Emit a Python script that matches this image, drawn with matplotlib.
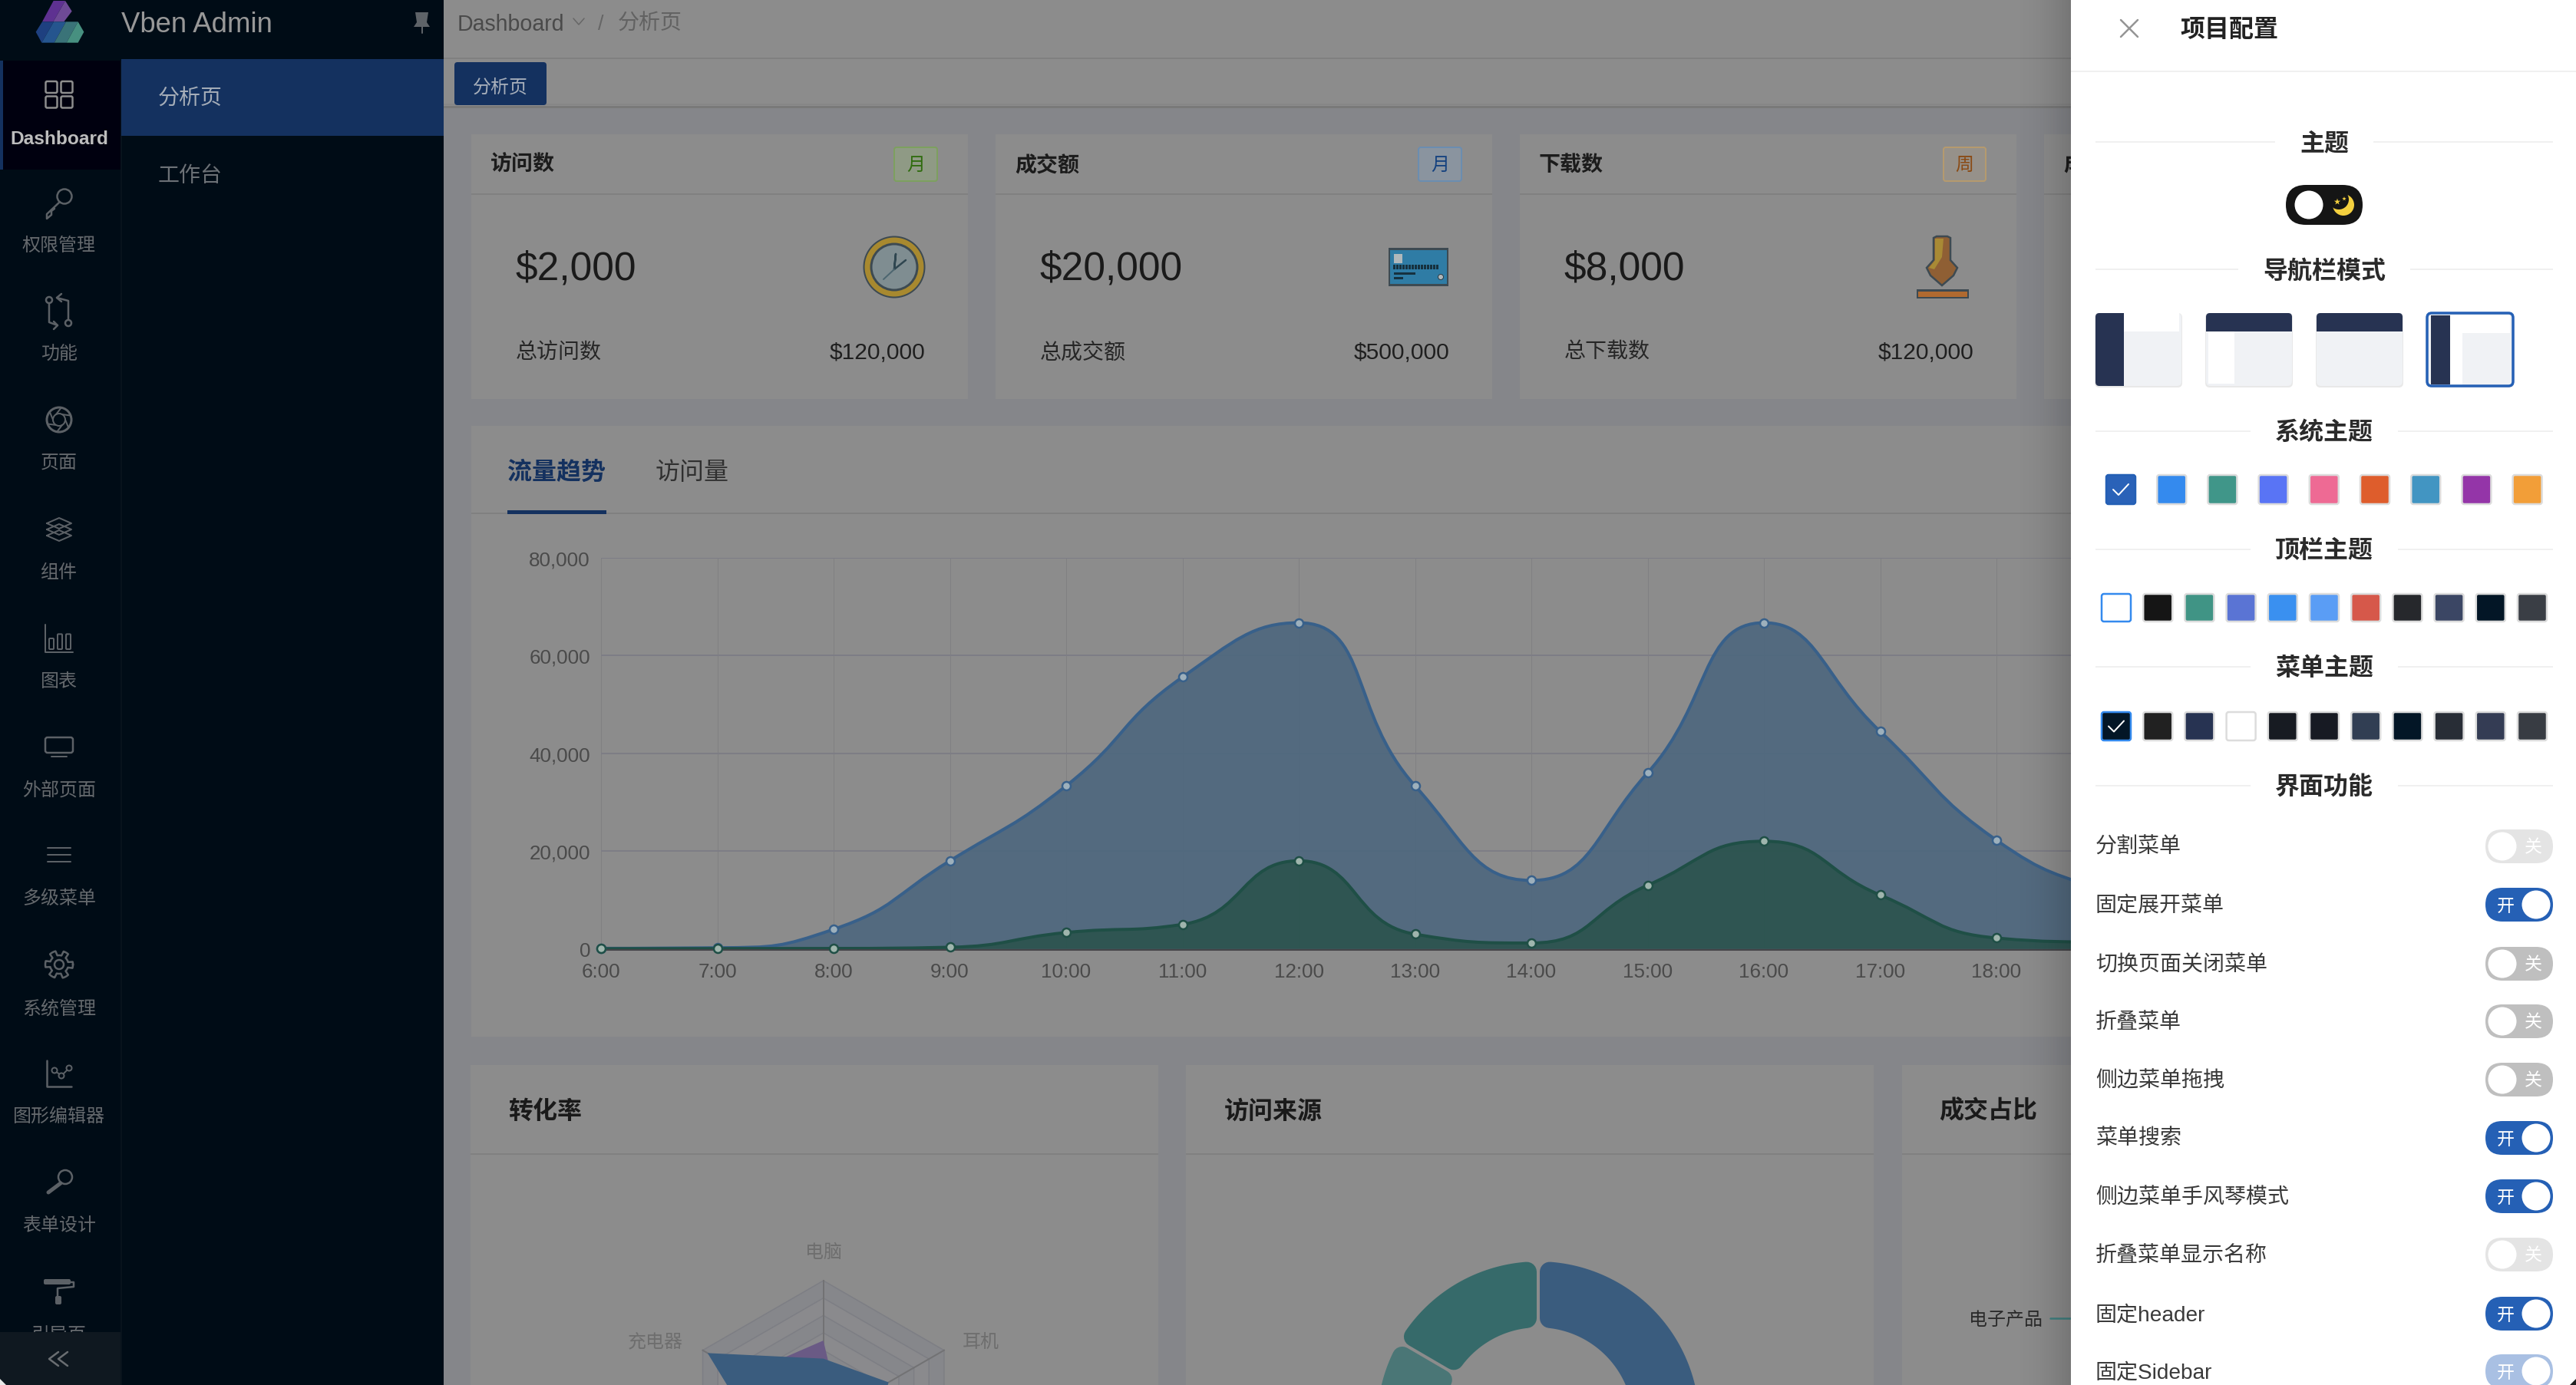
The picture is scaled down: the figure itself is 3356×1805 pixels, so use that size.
import numpy as np
import matplotlib
matplotlib.use("Agg")
import matplotlib.pyplot as plt
from matplotlib.patches import FancyBboxPatch, Rectangle, Circle, Polygon, PathPatch
from matplotlib.path import Path

plt.rcParams['font.family'] = ['Liberation Sans', 'Noto Sans CJK SC', 'DejaVu Sans']

W, H = 3356, 1806
DPI = 100

# chart data
hours = ['6:00', '7:00', '8:00', '9:00', '10:00', '11:00', '12:00', '13:00', '14:00',
         '15:00', '16:00', '17:00', '18:00', '19:00', '20:00']
visits = [111, 222, 4000, 18000, 33333, 55555, 66666, 33333, 14000,
          36000, 66666, 44444, 22222, 11111, 4000]
sales = [33, 66, 88, 333, 3333, 5000, 18000, 3000, 1200,
         13000, 22000, 11000, 2221, 1201, 390]
y_ticks = [0, 20000, 40000, 60000, 80000]

radar_labels = ['电脑', '充电器', '耳机', '手机', 'Ipad', '耳机']
radar_blue = [44, 96, 46, 30, 40, 54]
radar_purple = [57, 65, 30, 20, 10, 13.5]

source_values = [1048, 735, 580, 470]
source_colors = ['#3a5c7e', '#4a6c7c', '#4a7676', '#366a6a']

# stat cards
card_titles = ['访问数', '成交额', '下载数', '成交数']
card_values = ['$2,000', '$20,000', '$8,000']
card_foot = ['总访问数', '总成交额', '总下载数']
card_totals = ['$120,000', '$500,000', '$120,000']
card_tags = ['月', '月', '周']

side_labels = ['Dashboard', '权限管理', '功能', '页面', '组件', '图表', '外部页面',
               '多级菜单', '系统管理', '图形编辑器', '表单设计', '引导页']

# settings panel
system_colors = ['#2a62b8', '#348aee', '#409689', '#5974f5', '#ee6a94', '#de5d2c',
                 '#4295c2', '#9435a8', '#f29e38']
header_colors = ['#ffffff', '#151515', '#409485', '#5a74d4', '#3a90f0', '#5a9df5',
                 '#d6584a', '#26282c', '#3b4664', '#031626', '#3a3e45']
menu_colors = ['#031626', '#212121', '#273352', '#ffffff', '#171b22', '#171a23',
               '#313e53', '#031626', '#282d36', '#343c54', '#383c43']
option_labels = ['分割菜单', '固定展开菜单', '切换页面关闭菜单', '折叠菜单', '侧边菜单拖拽', '菜单搜索',
                 '侧边菜单手风琴模式', '折叠菜单显示名称', '固定header', '固定Sidebar']
option_on = [0, 1, 0, 0, 0, 1, 1, 0, 1, 1]
option_disabled = [1, 0, 0, 0, 0, 0, 0, 1, 0, 1]

SIDE = '#000c16'
ACTIVE = '#14315f'
CARD = '#8c8c8c'
PAGE = '#85868a'
DARKLINE = '#808080'
NAVY = '#273352'
BLUE = '#2560b5'


def pt(p):
    return p * 72.0 / DPI


fig = plt.figure(figsize=(W / DPI, H / DPI), dpi=DPI)


def pixel_axes(z):
    a = fig.add_axes([0, 0, 1, 1], zorder=z)
    a.set_xlim(0, W)
    a.set_ylim(H, 0)
    a.axis('off')
    a.patch.set_alpha(0)
    return a


def rect(a, x0, y0, x1, y1, color, z=1):
    a.add_patch(Rectangle((x0, y0), x1 - x0, y1 - y0, fc=color, ec='none', zorder=z))


def rbox(a, x0, y0, x1, y1, r, fc, ec='none', lw=0, z=2):
    a.add_patch(FancyBboxPatch((x0, y0), x1 - x0, y1 - y0, boxstyle='round,pad=0,rounding_size=%g' % r,
                               fc=fc, ec=ec, lw=pt(lw), zorder=z))


def txt(a, x, y, s, size, color, ha='left', weight='normal', z=4):
    # va center sits a little high with this font list
    a.text(x, y + 5, s, fontsize=pt(size), color=color, ha=ha, va='center', fontweight=weight, zorder=z)


def line(a, xs, ys, color, lw=2, z=3):
    a.plot(xs, ys, color=color, lw=pt(lw), solid_capstyle='round', solid_joinstyle='round', zorder=z)


def ring_slice(t1, t2, r0, r1, d):
    # outline of a donut slice whose straight sides are offset by d
    a1 = np.arcsin(d / r1)
    a0 = np.arcsin(d / r0)
    outer = np.linspace(t1 + a1, t2 - a1, 80)
    inner = np.linspace(t2 - a0, t1 + a0, 80)
    return np.vstack([np.column_stack([r1 * np.sin(outer), -r1 * np.cos(outer)]),
                      np.column_stack([r0 * np.sin(inner), -r0 * np.cos(inner)])])


def echarts_smooth(ax, xs, ys, smooth=0.5):
    # same control points as an echarts line with smooth: true, worked out on screen
    p = ax.transData.transform(np.column_stack([xs, ys]))
    verts = [p[0]]
    codes = [Path.MOVETO]
    cp0 = p[0].copy()
    n = len(p)
    for i in range(1, n):
        cur = p[i]
        if i == n - 1:
            cp1 = cur.copy()
            next_cp0 = cur.copy()
        else:
            prv, nxt = p[i - 1], p[i + 1]
            v = nxt - prv
            len_prev = np.hypot(*(cur - prv))
            len_next = np.hypot(*(nxt - cur))
            ratio = len_next / (len_next + len_prev)
            next_cp0 = cur + v * smooth * ratio
            next_cp0 = np.minimum(next_cp0, np.maximum(nxt, cur))
            next_cp0 = np.maximum(next_cp0, np.minimum(nxt, cur))
            v = next_cp0 - cur
            cp1 = cur - v * len_prev / len_next
            cp1 = np.minimum(cp1, np.maximum(prv, cur))
            cp1 = np.maximum(cp1, np.minimum(prv, cur))
            v = cur - cp1
            next_cp0 = cur + v * len_next / len_prev
        verts += [cp0, cp1, cur]
        codes += [Path.CURVE4] * 3
        cp0 = next_cp0
    return ax.transData.inverted().transform(np.array(verts)), codes


# ---------- page behind the mask ----------
bg = pixel_axes(0)
rect(bg, 578, 0, W, H, PAGE, 0)
rect(bg, 578, 0, W, 140, CARD)
rect(bg, 578, 76, W, 78, DARKLINE)
rect(bg, 578, 136, W, 138, '#868686')
rect(bg, 578, 139, W, 142, '#797979')
rect(bg, 0, 0, 578, H, SIDE)
rect(bg, 157, 80, 159, H, '#08131c')

# logo
for pts_, c in [([(209, 6), (255, 6), (208, 88), (165, 88)], '#5e3191'),
                ([(255, 6), (281, 47), (250, 88), (208, 88)], '#6e4a96'),
                ([(165, 88), (210, 88), (163, 170), (140, 128)], '#1e4080'),
                ([(210, 88), (258, 88), (212, 170), (163, 170)], '#25558e'),
                ([(258, 88), (305, 88), (260, 170), (212, 170)], '#3a7378'),
                ([(305, 88), (328, 128), (305, 170), (260, 170)], '#479080')]:
    bg.add_patch(Polygon(np.array(pts_) / 3.0, fc=c, ec='none', zorder=3))
txt(bg, 158, 27, 'Vben Admin', 36.5, '#989898')
# pin
bg.add_patch(Polygon([(541, 17), (558, 17), (556, 30), (560, 36), (539, 36), (543, 30)], fc='#5e6368', ec='none'))
line(bg, [549.5, 549.5], [36, 44], '#5e6368', 2)

# side menu
rect(bg, 0, 80, 157, 222, '#00000f', 2)
rect(bg, 0, 80, 4, 222, ACTIVE, 3)
rect(bg, 158, 78, 578, 178, ACTIVE, 2)
txt(bg, 206, 125, '分析页', 28, '#a5adb8')
txt(bg, 206, 225, '工作台', 28, '#6c7176')

IC = '#5c6166'
icon_y = [124, 266, 407, 548, 691, 833, 974, 1115, 1258, 1400, 1541, 1684]
label_y = [176, 316, 458, 600, 742, 884, 1025, 1167, 1310, 1451, 1593, 1736]
cx = 77
for i, s in enumerate(side_labels):
    if i == 0:
        txt(bg, cx, label_y[i], s, 24.5, '#bdbdbd', 'center', 'bold')
    else:
        txt(bg, cx, label_y[i], s, 24, '#65696d', 'center', z=2)

y = icon_y[0]
for dx in (-17.5, 2.5):
    for dy in (-17, 2.5):
        rbox(bg, cx + dx, y + dy, cx + dx + 15, y + dy + 15, 2, 'none', '#8d8d8d', 2.5, 3)
y = icon_y[1]
bg.add_patch(Circle((cx + 7, y - 9), 9.5, fc='none', ec=IC, lw=pt(2.5), zorder=3))
line(bg, [cx + 1, cx - 16, cx - 16, cx - 10, cx - 10, cx - 6], [y - 2, y + 14, y + 20, y + 15, y + 10, y + 7], IC, 2.5)
y = icon_y[2]
for dx, dy in ((-13, -15), (12, 15)):
    bg.add_patch(Circle((cx + dx, y + dy), 4, fc='none', ec=IC, lw=pt(2.5), zorder=3))
line(bg, [cx - 13, cx - 13, cx - 2], [y - 10, y + 14, y + 18], IC, 2.5)
line(bg, [cx - 3, cx + 12, cx + 12], [y - 18, y - 14, y + 10], IC, 2.5)
line(bg, [cx + 3, cx - 3, cx + 3], [y - 23, y - 18, y - 13], IC, 2.5)
line(bg, [cx - 7, cx - 2, cx - 7], [y + 13, y + 18, y + 23], IC, 2.5)
y = icon_y[3]
bg.add_patch(Circle((cx, y), 16, fc='none', ec=IC, lw=pt(3), zorder=3))
bg.add_patch(Circle((cx, y), 8, fc='none', ec=IC, lw=pt(2), zorder=3))
for a_ in np.arange(6) * np.pi / 3:
    line(bg, [cx + 8 * np.cos(a_), cx + 16 * np.cos(a_ + 0.7)], [y + 8 * np.sin(a_), y + 16 * np.sin(a_ + 0.7)], IC, 2)
y = icon_y[4]
for dy in (-8, 0, 8):
    line(bg, [cx - 16, cx, cx + 16, cx, cx - 16], [y + dy, y + dy - 7, y + dy, y + dy + 7, y + dy], IC, 2)
y = icon_y[5]
line(bg, [cx - 18, cx - 18, cx + 18], [y - 18, y + 18, y + 18], IC, 2)
for dx, hh in ((-10, 10), (1, 14), (12, 14)):
    rbox(bg, cx + dx - 3, y + 14 - hh * 1.4, cx + dx + 3, y + 14, 1, 'none', IC, 2, 3)
y = icon_y[6]
rbox(bg, cx - 18, y - 12, cx + 18, y + 8, 3, 'none', IC, 2.5, 3)
line(bg, [cx - 10, cx + 10], [y + 13, y + 13], IC, 2)
y = icon_y[7]
for dy in (-9, 0, 9):
    line(bg, [cx - 15, cx + 15], [y + dy, y + dy], IC, 2)
y = icon_y[8]
ang = np.linspace(0, 2 * np.pi, 97)
gear_r = 15 + 3 * np.sign(np.cos(ang * 6))
bg.plot(cx + gear_r * np.cos(ang), y + gear_r * np.sin(ang), color=IC, lw=pt(2.5), zorder=3)
bg.add_patch(Circle((cx, y), 6, fc='none', ec=IC, lw=pt(2.5), zorder=3))
y = icon_y[9]
line(bg, [cx - 16, cx - 16, cx + 16], [y - 17, y + 17, y + 17], IC, 2.5)
line(bg, [cx - 6, cx + 3, cx + 13], [y - 4, y + 3, y - 7], IC, 2)
for dx, dy in ((-6, -4), (3, 3), (13, -7)):
    bg.add_patch(Circle((cx + dx, y + dy), 3.5, fc=SIDE, ec=IC, lw=pt(2), zorder=4))
y = icon_y[10]
line(bg, [cx - 14, cx + 2], [y + 14, y + 2], IC, 5)
bg.add_patch(Circle((cx + 8, y - 6), 9, fc='none', ec=IC, lw=pt(2.5), zorder=3))
y = icon_y[11]
rbox(bg, cx - 20, y - 16, cx + 15, y - 9, 2, IC, z=3)
line(bg, [cx + 15, cx + 19, cx + 19, cx - 2, cx - 2], [y - 12, y - 12, y - 6, y - 4, y + 8], IC, 2.5)
rbox(bg, cx - 5, y + 6, cx + 3, y + 17, 2, IC, z=3)
rect(bg, 0, 1737, 157, H, '#0f1820', 5)
line(bg, [88, 76, 88], [1763, 1772, 1781], '#6a6e72', 2.5, 6)
line(bg, [76, 64, 76], [1763, 1772, 1781], '#6a6e72', 2.5, 6)

# breadcrumb and tab
txt(bg, 596, 27, 'Dashboard', 28.5, '#4a4a4a')
line(bg, [747, 754, 761], [25, 33, 25], '#666666', 1.5)
txt(bg, 783, 27, '/', 27, '#666666', 'center')
txt(bg, 805, 27, '分析页', 28, '#626262')
rbox(bg, 592, 82, 712, 138, 4, ACTIVE)
txt(bg, 652, 109, '分析页', 24, '#a6aeba', 'center')

# stat cards
card_x0 = [614, 1297, 1980]
card_x1 = [1261, 1944, 2627]
tag_x = [(1165, 1221), (1848, 1904), (2532, 2587)]
tag_style = [('#7da05f', '#8f9a85', '#2f6b0e'), ('#6b8db0', '#8a949f', '#14417f'),
             ('#b59a6e', '#96918a', '#8a4a14')]
for i in range(3):
    x0, x1 = card_x0[i], card_x1[i]
    rect(bg, x0, 176, x1, 521, CARD)
    rect(bg, x0, 253, x1, 255, DARKLINE, 2)
    txt(bg, x0 + 25, 211, card_titles[i], 28, '#1c1c1c', weight='bold')
    rbox(bg, tag_x[i][0], 193, tag_x[i][1], 237, 3, tag_style[i][1], tag_style[i][0], 2)
    txt(bg, (tag_x[i][0] + tag_x[i][1]) / 2, 211, card_tags[i], 24, tag_style[i][2], 'center')
    txt(bg, x0 + 57, 346, card_values[i], 51.5, '#1a1a1a')
    txt(bg, x0 + 58, 455, card_foot[i], 28, '#262626')
    txt(bg, x0 + 591, 455, card_totals[i], 30, '#1f1f1f', 'right')
# the fourth card only shows a sliver left of the drawer
rect(bg, 2663, 176, W, 521, CARD)
rect(bg, 2663, 253, W, 255, DARKLINE, 2)
txt(bg, 2688, 211, card_titles[3][0], 28, '#1c1c1c', weight='bold')

# clock icon
bg.add_patch(Circle((1165, 349), 39.5, fc='#a8892f', ec='#3d4a52', lw=pt(2), zorder=3))
bg.add_patch(Circle((1165, 349), 30, fc='#7f8d91', ec='#3d4a52', lw=pt(3), zorder=4))
line(bg, [1165, 1167, 1165, 1180], [352, 332, 352, 340], '#2f4650', 2.5, 5)
line(bg, [1165, 1151], [352, 365], '#4d6670', 2, 5)
# bank card icon
rect(bg, 1809, 324, 1887, 374, '#3d4a52', 3)
rect(bg, 1811, 327, 1885, 371, '#2f7ca5', 4)
rect(bg, 1816, 332, 1827, 344, '#b0b8bb', 5)
for bx in np.arange(1815, 1872, 4):
    rect(bg, bx, 346, bx + 2.5, 352, '#16313f', 5)
rect(bg, 1816, 356, 1844, 359, '#16313f', 5)
rect(bg, 1816, 362, 1828, 365, '#16313f', 5)
bg.add_patch(Circle((1877, 362), 3.5, fc='#b0b8bb', ec='#2a3a44', lw=pt(1), zorder=5))
# stamp icon
bg.add_patch(Polygon([(2519, 311), (2523, 309), (2537, 309), (2541, 311), (2541, 340), (2550, 350), (2545, 360),
                      (2530, 373), (2515, 360), (2510, 350), (2519, 340)],
                     fc='#8f5f34', ec='#3d4a52', lw=pt(2.5), zorder=3))
bg.add_patch(Polygon([(2521, 312), (2532, 312), (2530, 336), (2520, 352), (2513, 350), (2521, 340)],
                     fc='#a88a35', ec='none', zorder=4))
rect(bg, 2497, 378, 2565, 390, '#3d4a52', 3)
rect(bg, 2499, 381, 2563, 388, '#b06a30', 4)

# chart card
rect(bg, 614, 556, W, 1352, CARD)
rect(bg, 614, 669, W, 671, DARKLINE, 2)
rect(bg, 661, 666, 790, 671, ACTIVE, 3)
txt(bg, 661, 612, '流量趋势', 32, ACTIVE, weight='bold')
txt(bg, 854, 612, '访问量', 32, '#303030')

# lower cards
rect(bg, 613, 1389, 1509, H, CARD)
rect(bg, 1545, 1389, 2441, H, CARD)
rect(bg, 2478, 1389, W, H, CARD)
for x0, x1 in ((613, 1509), (1545, 2441), (2478, W)):
    rect(bg, x0, 1504, x1, 1506, DARKLINE, 2)
txt(bg, 662, 1444, '转化率', 32, '#1a1a1a', weight='bold')
txt(bg, 1595, 1444, '访问来源', 32, '#1a1a1a', weight='bold')
txt(bg, 2526, 1444, '成交占比', 32, '#1a1a1a', weight='bold')
txt(bg, 2565, 1717, '电子产品', 24, '#2a2a2a')
line(bg, [2671, 2698], [1719, 1719], '#3f8080', 2.5)

# donut of the source card
don_x, don_y = 2004, 1855
total = float(sum(source_values))
start = 0.0
for v, c in zip(source_values, source_colors):
    stop = start + v / total * 2 * np.pi
    # inset by 13 px and stroked back out with a round join, this gives the rounded corners
    poly = ring_slice(start, stop, 124 + 13, 210 - 13, 15)
    bg.add_patch(Polygon(poly + [don_x, don_y], fc=c, ec=c, lw=pt(26), joinstyle='round', zorder=3))
    start = stop

# ---------- area chart ----------
X0, STEP = 783.0, 151.5
Y_TOP, Y_BOT = 727.6, 1237.6
x_vis = 13
ax = fig.add_axes([X0 / W, 1 - Y_BOT / H, STEP * x_vis / W, (Y_BOT - Y_TOP) / H], zorder=1)
ax.patch.set_alpha(0)
ax.set_xlim(0, x_vis)
ax.set_ylim(0, 80000)
x_idx = np.arange(len(hours))
ax.set_xticks(x_idx[:x_vis])
ax.set_xticklabels(hours[:x_vis], fontsize=pt(26), color='#4a4a4a')
ax.set_yticks(y_ticks)
ax.set_yticklabels(['{:,}'.format(t) for t in y_ticks], fontsize=pt(26), color='#4a4a4a')
ax.tick_params(axis='x', length=0, pad=pt(17))
ax.tick_params(axis='y', length=0, pad=pt(14))
ax.set_axisbelow(True)
ax.grid(axis='y', color='#7d7d85', lw=pt(2))
ax.grid(axis='x', color='#808082', lw=pt(1))
for name, sp in ax.spines.items():
    sp.set_visible(name == 'bottom')
ax.spines['bottom'].set_color('#444448')
ax.spines['bottom'].set_linewidth(pt(3))

for vals, fill, edge, mfc, alpha in [(visits, '#4d677e', '#38608a', '#9db0bc', 0.9),
                                     (sales, '#2b534d', '#1f4f46', '#9fb5ad', 0.9)]:
    verts, codes = echarts_smooth(ax, x_idx, np.array(vals, dtype=float))
    area = np.vstack([verts, [[x_idx[-1], 0], [0, 0], [0, 0]]])
    area_codes = codes + [Path.LINETO, Path.LINETO, Path.CLOSEPOLY]
    ax.add_patch(PathPatch(Path(area, area_codes), fc=fill, ec='none', alpha=alpha, zorder=3))
    ax.add_patch(PathPatch(Path(verts, codes), fc='none', ec=edge, lw=pt(4), zorder=4))
    ax.plot(x_idx[:x_vis], vals[:x_vis], ls='none', marker='o', ms=pt(11), mfc=mfc, mec=edge, mew=pt(2.5),
            zorder=5, clip_on=False)

# ---------- radar ----------
RAD_X, RAD_Y, RAD_R = 1072.7, 1851.5, 181.5
rad = fig.add_axes([(RAD_X - RAD_R) / W, 1 - (RAD_Y + RAD_R) / H, 2 * RAD_R / W, 2 * RAD_R / H],
                   polar=True, zorder=1)
rad.set_theta_zero_location('N')
rad.set_theta_direction(1)
rad.set_ylim(0, 100)
rad.axis('off')
n_axes = len(radar_labels)
theta = np.arange(n_axes + 1) * 2 * np.pi / n_axes
rings = np.arange(8, 0, -1) * 12.5
for k, r in enumerate(rings):
    rad.fill(theta, [r] * (n_axes + 1), color='#86878b' if k % 2 == 0 else '#8a8a8d', lw=0, zorder=1, clip_on=False)
    rad.plot(theta, [r] * (n_axes + 1), color='#7d7e84', lw=pt(1.5), zorder=2, clip_on=False)
for t in theta[:-1]:
    rad.plot([t, t], [0, 100], color='#727274', lw=pt(2), zorder=2, clip_on=False)
rad.fill(theta, radar_purple + radar_purple[:1], color='#6a5a85', lw=0, zorder=3, clip_on=False)
rad.fill(theta, radar_blue + radar_blue[:1], color='#3a5c7e', lw=0, zorder=4, clip_on=False)
txt(bg, 1072.7, 1628, radar_labels[0], 24, '#6e6e6e', 'center')
txt(bg, 854, 1745, radar_labels[1], 24, '#6e6e6e', 'center')
txt(bg, 1278, 1745, radar_labels[5], 24, '#6e6e6e', 'center')

# ---------- settings drawer ----------
top = pixel_axes(5)
shadow = np.zeros((1, 80, 4))
shadow[0, :, 3] = np.linspace(0, 1, 80) ** 2 * 0.16
top.imshow(shadow, extent=(2618, 2698, H, 0), aspect='auto', zorder=0, interpolation='bilinear')
top.set_xlim(0, W)
top.set_ylim(H, 0)
rect(top, 2698, 0, W, H, '#ffffff', 1)
rect(top, 2698, 93, W, 95, '#f0f0f0', 2)
line(top, [2763, 2785], [27, 49], '#959595', 2.5)
line(top, [2763, 2785], [49, 27], '#959595', 2.5)
txt(top, 2840, 35, '项目配置', 32, '#222222', weight='bold')


def section(y, s, left_end, right_start):
    txt(top, 3028, y - 3, s, 32, '#2a2a2a', 'center', 'bold')
    rect(top, 2730, y - 1, left_end, y + 1, '#f0f0f0', 2)
    rect(top, right_start, y - 1, 3326, y + 1, '#f0f0f0', 2)


section(186, '主题', 2964, 3092)
section(352, '导航栏模式', 2916, 3140)
section(563, '系统主题', 2932, 3124)
section(717, '顶栏主题', 2932, 3124)
section(870, '菜单主题', 2932, 3124)
section(1025, '界面功能', 2932, 3124)

# dark mode toggle
rbox(top, 2978, 242, 3078, 294, 26, '#151515')
top.add_patch(Circle((3008, 268), 18.5, fc='#ffffff', ec='none', zorder=3))
top.add_patch(Circle((3053, 268), 14, fc='#f4d03f', ec='none', zorder=3))
top.add_patch(Circle((3047, 261), 13, fc='#151515', ec='none', zorder=4))
top.scatter([3045, 3054], [264, 260], marker='*', s=[40, 18], c='#f4d03f', linewidths=0, zorder=5)

# layout mode cards
nav_x = [2730, 2874, 3018, 3162]
NAV_T, NAV_B = 409, 504
for i, x0 in enumerate(nav_x):
    x1 = x0 + 112
    rbox(top, x0 - 1, NAV_T, x1 + 1, NAV_B + 2, 6, '#e8e8e8', z=2)
    rbox(top, x0, NAV_T, x1, NAV_B, 6, '#f0f2f5', z=2)
    if i == 0:
        rect(top, x0 + 37, NAV_T, x1 - 3, NAV_T + 24, '#ffffff', 3)
        rbox(top, x0, NAV_T, x0 + 37, NAV_B, 5, NAVY, z=3)
        rect(top, x0 + 20, NAV_T, x0 + 37, NAV_B, NAVY, 3)
    elif i == 1:
        rect(top, x0 + 3, NAV_T + 24, x0 + 37, NAV_B - 3, '#ffffff', 3)
        rbox(top, x0, NAV_T, x1, NAV_T + 24, 5, NAVY, z=3)
        rect(top, x0, NAV_T + 15, x1, NAV_T + 24, NAVY, 3)
    elif i == 2:
        rbox(top, x0, NAV_T, x1, NAV_T + 24, 5, NAVY, z=3)
        rect(top, x0, NAV_T + 15, x1, NAV_T + 24, NAVY, 3)
    else:
        rect(top, x0 + 5, NAV_T + 3, x1 - 4, NAV_B - 2, '#f0f2f5', 3)
        rect(top, x0 + 30, NAV_T + 3, x1 - 4, NAV_T + 26, '#ffffff', 3)
        rect(top, x0 + 30, NAV_T + 26, x0 + 46, NAV_B - 2, '#ffffff', 3)
        rect(top, x0 + 5, NAV_T + 3, x0 + 30, NAV_B - 2, NAVY, 4)
        rbox(top, x0, NAV_T, x1, NAV_B, 6, 'none', BLUE, 3.5, 5)


def swatches(colors, y0, y1, first, step, picked_border):
    for i, c in enumerate(colors):
        xc = first + i * step
        ec = '#dcdcdc'
        if i == 0:
            ec = picked_border
        rbox(top, xc - 19, y0 + 1, xc + 19, y1 - 1, 3, c, ec, 2.5, 3)
        if i == 0 and c != '#ffffff':
            line(top, [xc - 10, xc - 3, xc + 10], [(y0 + y1) / 2, (y0 + y1) / 2 + 7, (y0 + y1) / 2 - 7], '#ffffff', 2, 4)


swatches(system_colors, 619, 659, 2763, 66.2, BLUE)
swatches(header_colors, 774, 812, 2757, 54.2, '#348aee')
swatches(menu_colors, 928, 967, 2757, 54.2, '#348aee')

# option switches
opt_y = [1104, 1180, 1257, 1332, 1408, 1484, 1560, 1636, 1713, 1788]
for i, s in enumerate(option_labels):
    y = opt_y[i]
    txt(top, 2730, y - 4, s, 28, '#3a3a3a')
    if option_on[i]:
        c = '#a9c0e3' if option_disabled[i] else BLUE
    else:
        c = '#e4e4e4' if option_disabled[i] else '#bfbfbf'
    rbox(top, 3238, y - 22, 3326, y + 22, 22, c, z=3)
    knob_x = 3304 if option_on[i] else 3260
    top.add_patch(Circle((knob_x, y), 18.5, fc='#ffffff', ec='none', zorder=4))
    txt(top, 3264 if option_on[i] else 3300, y - 4, '开' if option_on[i] else '关', 23, '#ffffff', 'center', z=5)

# the screenshot has rounded bottom corners
top.add_patch(Polygon([(0, H - 8), (8, H), (0, H)], fc='#e8e8e8', ec='none', zorder=9))
top.add_patch(Polygon([(W, H - 8), (W - 8, H), (W, H)], fc='#202020', ec='none', zorder=9))

fig.savefig('out.png', dpi=DPI)
